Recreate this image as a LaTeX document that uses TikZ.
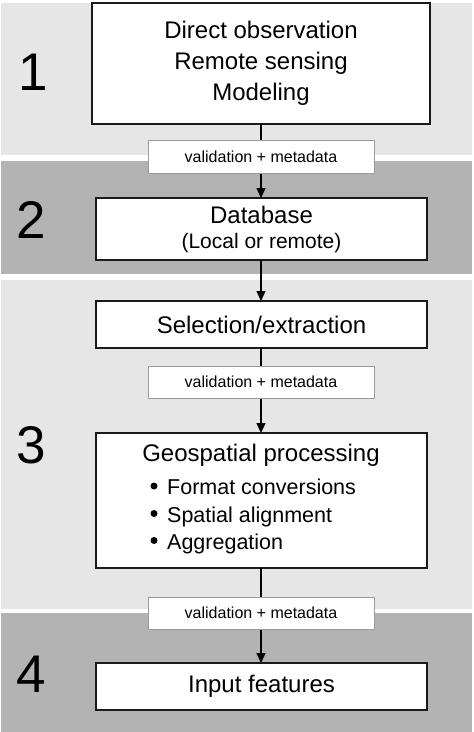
\documentclass[tikz,border=0pt]{standalone}
\usepackage{fontspec}
\setmainfont{Liberation Sans}
\usetikzlibrary{arrows.meta}
\definecolor{bandlight}{HTML}{E6E6E6}
\definecolor{banddark}{HTML}{B3B3B3}
\definecolor{boxline}{HTML}{1A1A1A}
\definecolor{valline}{HTML}{9A9A9A}
\begin{document}
\begin{tikzpicture}[x=1pt,y=-1pt,
  band/.style={fill=#1,draw=none},
  mainbox/.style={draw=boxline,line width=1.5pt,fill=white,minimum width=331pt,inner sep=0pt,align=center,font=\fontsize{24}{31}\selectfont},
  valbox/.style={draw=valline,line width=0.9pt,fill=white,minimum width=226pt,minimum height=32pt,inner sep=0pt,font=\fontsize{16}{19}\selectfont},
  stepnum/.style={anchor=base,inner sep=0pt,font=\fontsize{53}{60}\selectfont},
  itemtext/.style={anchor=base west,inner sep=0pt,font=\fontsize{21.5}{26}\selectfont},
  bul/.style={circle,fill=black,draw=none,inner sep=0pt,minimum size=7pt},
  flow/.style={draw=black,line width=1.3pt,-{Triangle[length=10pt,width=9pt]}}
]
\useasboundingbox (0,0) rectangle (474,732);
\fill[white] (0,0) rectangle (474,732);
% bands
\path[band=bandlight] (1,3) rectangle (472,155);
\path[band=banddark] (1,161) rectangle (472,274);
\path[band=bandlight] (1,280) rectangle (472,609);
\path[band=banddark] (1,613) rectangle (472,732);
% step numbers
\node[stepnum] (n1) at (33.5,90) {1};
\node[stepnum] (n2) at (31.5,238) {2};
\node[stepnum] (n3) at (31,463) {3};
\node[stepnum] (n4) at (31.5,692) {4};
% main boxes
\node[mainbox,minimum width=338pt,minimum height=121pt] (obs) at (261,63.5)
  {Direct observation\\Remote sensing\\Modeling};
\node[mainbox,minimum height=62pt,font=\fontsize{24}{25}\selectfont] (db) at (261.5,229)
  {Database\\{\fontsize{21}{25}\selectfont(Local or remote)}};
\node[mainbox,minimum height=47pt] (sel) at (261.5,324.5) {Selection/extraction};
\node[mainbox,minimum height=135pt] (geo) at (261.5,500.5) {};
\node[mainbox,minimum height=47pt] (inp) at (261.5,686.5) {Input features};
% geo contents
\node[anchor=base,inner sep=0pt,font=\fontsize{24}{29}\selectfont] (geot) at (261,461) {Geospatial processing};
\node[bul] (b1) at (154,486) {};
\node[itemtext] (i1) at (167,494) {Format conversions};
\node[bul] (b2) at (154,513.5) {};
\node[itemtext] (i2) at (167,522) {Spatial alignment};
\node[bul] (b3) at (154,540.5) {};
\node[itemtext] (i3) at (167,549) {Aggregation};
% connectors
\coordinate (c1) at (261,124);
\coordinate (c2) at (261,198);
\coordinate (c3) at (261,260);
\coordinate (c4) at (261,301);
\coordinate (c5) at (261,348);
\coordinate (c6) at (261,433);
\coordinate (c7) at (261,568);
\coordinate (c8) at (261,663);
\draw[flow] (c1) -- (c2);
\draw[flow] (c3) -- (c4);
\draw[flow] (c5) -- (c6);
\draw[flow] (c7) -- (c8);
% validation labels
\node[valbox,minimum height=33pt] (v1) at (261,156.5) {validation + metadata};
\node[valbox] (v2) at (261,382) {validation + metadata};
\node[valbox] (v3) at (261,613) {validation + metadata};
\end{tikzpicture}
\end{document}
